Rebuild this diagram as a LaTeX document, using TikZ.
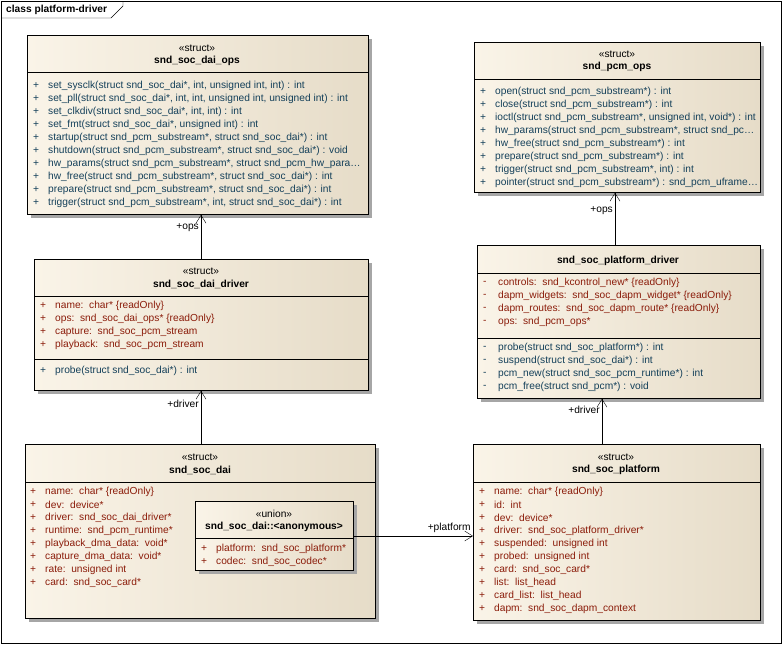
\documentclass[tikz,border=0pt]{standalone}
\usepackage{fontspec}
\setmainfont{Liberation Sans}
\usetikzlibrary{shadows,arrows.meta}
\definecolor{attr}{HTML}{8B1C0A}
\definecolor{oper}{HTML}{14405A}
\definecolor{fillL}{HTML}{FAF4E8}
\definecolor{fillR}{HTML}{E6DCC8}
\tikzset{
	box/.style={draw, thick, anchor=north west, inner sep=0, left color=fillL, right color=fillR,
		drop shadow={shadow xshift=4pt, shadow yshift=-4pt, fill=black!35, opacity=1}},
	txt/.style={anchor=west, inner sep=0, font=\fontsize{10.2}{12}\selectfont},
	hdr/.style={inner sep=0, font=\fontsize{10.2}{12}\selectfont},
	assoc/.style={-{Straight Barb[length=8pt,width=10pt]}},
}
% member rows: x, first y, colour, sign, list
\newcommand\rows[5]{%
	\foreach \t [count=\i from 0] in {#5}
		{\node[txt,text=#3] at (#1+6,#2+13*\i) {#4};
		 \node[txt,text=#3] at (#1+21,#2+13*\i) {\t};}}
\begin{document}
\catcode`\_=12
\begin{tikzpicture}[x=1pt,y=-1pt]
	\useasboundingbox (0,0) rectangle (783,645);
	\draw (1,1) rectangle (781,643);
	\draw (1,18) -- (111,18) -- (123,6) -- (123,1);
	\node[txt,font=\fontsize{10.2}{12}\bfseries] at (6,10) {class platform-driver};

	% snd_soc_dai_ops
	\node[box,minimum width=341pt,minimum height=179pt] (daiops) at (27,35) {};
	\node[hdr] at (197,48) {«struct»};
	\node[hdr,font=\fontsize{10.2}{12}\bfseries] at (197,61) {snd_soc_dai_ops};
	\draw (27,72) -- (368,72);
	\rows{27}{86}{oper}{+}{{set_sysclk(struct snd_soc_dai*, int, unsigned int, int) : int},
		{set_pll(struct snd_soc_dai*, int, int, unsigned int, unsigned int) : int},
		{set_clkdiv(struct snd_soc_dai*, int, int) : int},
		{set_fmt(struct snd_soc_dai*, unsigned int) : int},
		{startup(struct snd_pcm_substream*, struct snd_soc_dai*) : int},
		{shutdown(struct snd_pcm_substream*, struct snd_soc_dai*) : void},
		{hw_params(struct snd_pcm_substream*, struct snd_pcm_hw_para\ldots},
		{hw_free(struct snd_pcm_substream*, struct snd_soc_dai*) : int},
		{prepare(struct snd_pcm_substream*, struct snd_soc_dai*) : int},
		{trigger(struct snd_pcm_substream*, int, struct snd_soc_dai*) : int}}

	% snd_pcm_ops
	\node[box,minimum width=286pt,minimum height=150pt] (pcmops) at (474,42) {};
	\node[hdr] at (617,54) {«struct»};
	\node[hdr,font=\fontsize{10.2}{12}\bfseries] at (617,67) {snd_pcm_ops};
	\draw (474,79) -- (760,79);
	\rows{474}{92}{oper}{+}{{open(struct snd_pcm_substream*) : int},
		{close(struct snd_pcm_substream*) : int},
		{ioctl(struct snd_pcm_substream*, unsigned int, void*) : int},
		{hw_params(struct snd_pcm_substream*, struct snd_pc\ldots},
		{hw_free(struct snd_pcm_substream*) : int},
		{prepare(struct snd_pcm_substream*) : int},
		{trigger(struct snd_pcm_substream*, int) : int},
		{pointer(struct snd_pcm_substream*) : snd_pcm_uframe\ldots}}

	% snd_soc_dai_driver
	\node[box,minimum width=334pt,minimum height=131pt] (daidrv) at (34,259) {};
	\node[hdr] at (201,271) {«struct»};
	\node[hdr,font=\fontsize{10.2}{12}\bfseries] at (201,284) {snd_soc_dai_driver};
	\draw (34,296) -- (368,296) (34,359) -- (368,359);
	\rows{34}{306}{attr}{+}{{name:\ \ char* \{readOnly\}},
		{ops:\ \ snd_soc_dai_ops* \{readOnly\}},
		{capture:\ \ snd_soc_pcm_stream},
		{playback:\ \ snd_soc_pcm_stream}}
	\rows{34}{371}{oper}{+}{{probe(struct snd_soc_dai*) : int}}

	% snd_soc_platform_driver
	\node[box,minimum width=283pt,minimum height=153pt] (platdrv) at (477,245) {};
	\node[hdr,font=\fontsize{10.2}{12}\bfseries] at (618,261) {snd_soc_platform_driver};
	\draw (477,273) -- (760,273) (477,338) -- (760,338);
	\rows{477}{283}{attr}{-}{{controls:\ \ snd_kcontrol_new* \{readOnly\}},
		{dapm_widgets:\ \ snd_soc_dapm_widget* \{readOnly\}},
		{dapm_routes:\ \ snd_soc_dapm_route* \{readOnly\}},
		{ops:\ \ snd_pcm_ops*}}
	\rows{477}{348}{oper}{-}{{probe(struct snd_soc_platform*) : int},
		{suspend(struct snd_soc_dai*) : int},
		{pcm_new(struct snd_soc_pcm_runtime*) : int},
		{pcm_free(struct snd_pcm*) : void}}

	% snd_soc_dai
	\node[box,minimum width=350pt,minimum height=174pt] (dai) at (25,444) {};
	\node[hdr] at (200,457) {«struct»};
	\node[hdr,font=\fontsize{10.2}{12}\bfseries] at (200,470) {snd_soc_dai};
	\draw (25,482) -- (375,482);
	\rows{24}{492}{attr}{+}{{name:\ \ char* \{readOnly\}},
		{dev:\ \ device*},
		{driver:\ \ snd_soc_dai_driver*},
		{runtime:\ \ snd_pcm_runtime*},
		{playback_dma_data:\ \ void*},
		{capture_dma_data:\ \ void*},
		{rate:\ \ unsigned int},
		{card:\ \ snd_soc_card*}}

	% anonymous union
	\node[box,minimum width=158pt,minimum height=69pt] (anon) at (195,501) {};
	\node[hdr] at (274,514) {«union»};
	\node[hdr,font=\fontsize{10.2}{12}\bfseries] at (274,527) {snd_soc_dai::<anonymous>};
	\draw (195,538) -- (353,538);
	\rows{195}{549}{attr}{+}{{platform:\ \ snd_soc_platform*},
		{codec:\ \ snd_soc_codec*}}

	% snd_soc_platform
	\node[box,minimum width=287pt,minimum height=176pt] (plat) at (473,444) {};
	\node[hdr] at (616,457) {«struct»};
	\node[hdr,font=\fontsize{10.2}{12}\bfseries] at (616,470) {snd_soc_platform};
	\draw (473,482) -- (760,482);
	\rows{473}{492}{attr}{+}{{name:\ \ char* \{readOnly\}},
		{id:\ \ int},
		{dev:\ \ device*},
		{driver:\ \ snd_soc_platform_driver*},
		{suspended:\ \ unsigned int},
		{probed:\ \ unsigned int},
		{card:\ \ snd_soc_card*},
		{list:\ \ list_head},
		{card_list:\ \ list_head},
		{dapm:\ \ snd_soc_dapm_context}}

	% associations
	\draw[assoc] (daidrv.north -| 201,0) -- node[hdr,pos=0.7,left=2pt] {+ops} (daiops.south -| 201,0);
	\draw[assoc] (dai.north -| 201,0) -- node[hdr,pos=0.75,left=2pt] {+driver} (daidrv.south -| 201,0);
	\draw[assoc] (plat.north -| 602,0) -- node[hdr,pos=0.75,left=2pt] {+driver} (platdrv.south -| 602,0);
	\draw[assoc] (platdrv.north -| 615,0) -- node[hdr,pos=0.65,left=2pt] {+ops} (pcmops.south -| 615,0);
	\draw[assoc] (anon.east |- 0,536) -- node[hdr,pos=0.8,above=3pt] {+platform} (plat.west |- 0,536);
\end{tikzpicture}
\end{document}
